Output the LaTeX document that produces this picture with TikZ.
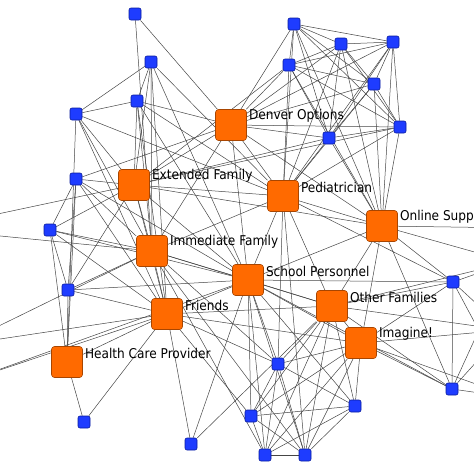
\documentclass[tikz,border=0pt]{standalone}
\usepackage{fontspec}
\usepackage{tikz}
\usetikzlibrary{positioning,backgrounds}
\newfontfamily\lblfont{DejaVu Sans Condensed}
\definecolor{orgfill}{HTML}{FF6A00}
\definecolor{orgline}{HTML}{A84500}
\definecolor{bluefill}{HTML}{1E3CFF}
\definecolor{blueline}{HTML}{0A1C9C}
\definecolor{linkgray}{HTML}{454545}

\begin{document}
\begin{tikzpicture}[x=1pt,y=-1pt,
        hub/.style={draw=orgline, fill=orgfill, rounded corners=3pt, minimum size=31pt, inner sep=0pt, line width=0.6pt},
        leaf/.style={draw=blueline, fill=bluefill, rounded corners=2pt, minimum size=12pt, inner sep=0pt, line width=0.6pt},
        lbl/.style={anchor=west, inner sep=1pt, yshift=9pt, xshift=1pt, font=\lblfont\fontsize{13.5}{15}\selectfont, text=black},
        link/.style={draw=linkgray, line width=0.5pt}
    ]
    \useasboundingbox (0,0) rectangle (474,474);
    \clip (0,0) rectangle (474,474);

    % labelled actors
    \foreach \name/\x/\y/\content in {
            DO/231/125/{Denver Options},
            EF/134/185/{Extended Family},
            PD/283/196/{Pediatrician},
            OS/382/226/{Online Support},
            IF/152/251/{Immediate Family},
            SP/248/280/{School Personnel},
            FR/167/314/{Friends},
            HC/67/362/{Health Care Provider},
            OF/332/306/{Other Families},
            IM/361/343/{Imagine!}} {
        \node[hub, label={[lbl]east:\content}] (\name) at (\x,\y) {};
    }

    % respondents
    \foreach \name/\x/\y in {
            b1/135/14, b2/151/62, b3/137/101, b4/76/114, b5/76/179,
            b6/50/230, b7/68/290, b8/84/422, b9/191/444, b10/294/24,
            b11/341/44, b12/393/42, b13/289/65, b14/374/84, b15/400/127,
            b16/329/138, b17/453/282, b18/278/364, b19/355/406, b20/251/416,
            b21/265/455, b22/305/455, b23/452/389} {
        \node[leaf] (\name) at (\x,\y) {};
    }

    % ends outside the frame
    \coordinate (l1) at (-40,222);
    \coordinate (l2) at (-40,232);
    \coordinate (l3) at (-40,345);
    \coordinate (l4) at (-30,380);
    \coordinate (r1) at (510,262);
    \coordinate (r2) at (505,330);
    \coordinate (r3) at (515,398);
    \coordinate (r4) at (520,228);

    \begin{scope}[on background layer]
        \foreach \a/\b in {
                b1/DO, b1/IF,
                b2/b4, b2/b3, b2/EF, b2/IF, b2/FR, b2/PD, b2/SP,
                b3/b4, b3/DO, b3/EF, b3/IF, b3/PD, b3/SP, b3/FR,
                b4/EF, b4/IF, b4/PD, b4/FR, b4/HC,
                b5/EF, b5/b6, b5/b7, b5/IF, b5/SP, b5/FR, b5/DO, b5/HC,
                b6/b7, b6/EF, b6/IF, b6/FR, b6/HC, b6/SP,
                b7/HC, b7/EF, b7/IF, b7/FR, b7/SP,
                b8/HC, b8/FR,
                b9/FR, b9/OF, b9/SP,
                b10/b11, b10/b12, b10/b13, b10/b14, b10/b15, b10/b16, b10/DO, b10/PD, b10/OS,
                b11/b12, b11/b13, b11/b14, b11/b15, b11/b16, b11/DO, b11/PD, b11/OS,
                b12/b13, b12/b14, b12/b15, b12/b16, b12/DO, b12/PD, b12/OS,
                b13/b14, b13/b15, b13/b16, b13/DO, b13/PD, b13/OS, b13/EF,
                b14/b15, b14/b16, b14/PD, b14/OS, b14/DO,
                b15/b16, b15/DO, b15/PD, b15/OS, b15/EF,
                b16/DO, b16/PD, b16/OS, b16/EF,
                b17/b23, b17/OS, b17/OF, b17/IM, b17/SP, b17/PD, b17/r1, b17/r2, b17/r3,
                b23/OS, b23/OF, b23/IM, b23/r1, b23/r2, b23/r3, b23/SP,
                b18/b19, b18/b20, b18/b21, b18/b22, b18/SP, b18/OF, b18/IM, b18/FR, b18/IF, b18/PD,
                b19/b20, b19/b21, b19/b22, b19/SP, b19/OF, b19/IM,
                b20/b21, b20/b22, b20/SP, b20/OF, b20/IM, b20/FR,
                b21/b22, b21/SP, b21/OF, b21/IM, b21/IF,
                b22/SP, b22/OF, b22/IM, b22/IF, b22/PD,
                DO/EF, DO/PD, DO/OS, DO/IF, DO/SP,
                EF/IF, EF/PD, EF/FR, EF/SP, EF/OS,
                IF/SP, IF/FR, IF/PD, IF/OF,
                FR/SP, FR/OF, FR/IM, FR/HC,
                SP/OF, SP/PD, SP/IM, SP/OS,
                PD/OS, PD/OF,
                OF/IM, OS/OF, OS/IM, OS/r4, OS/r1, OF/r2, IM/r2, IM/r3, OF/r1,
                l1/EF, l2/IF, l3/IF, l3/FR, l4/FR, l4/SP} {
            \draw[link] (\a) -- (\b);
        }
    \end{scope}
\end{tikzpicture}
\end{document}
